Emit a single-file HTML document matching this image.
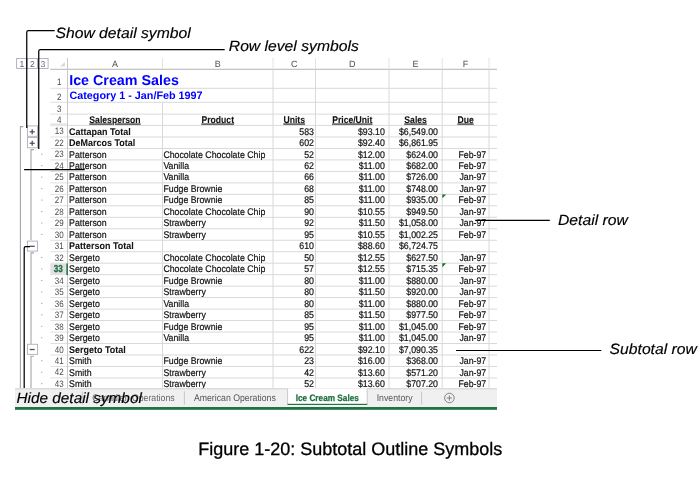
<!DOCTYPE html><html><head><meta charset="utf-8"><style>html,body{margin:0;padding:0;background:#fff;}svg{display:block;}.t{font-family:"Liberation Sans",Arial,sans-serif;text-rendering:geometricPrecision;}.d{fill:#111;stroke:#111;stroke-width:0.2px;font-size:9.7px;}.b{font-weight:bold;stroke-width:0.05px;}.r{text-anchor:end;}</style></head><body>
<svg width="700" height="480" viewBox="0 0 700 480" class="t">
<line x1="67.5" y1="69.40" x2="497" y2="69.40" stroke="#d9d9d9" stroke-width="1"/>
<line x1="67.5" y1="88.30" x2="497" y2="88.30" stroke="#d9d9d9" stroke-width="1"/>
<line x1="67.5" y1="102.30" x2="497" y2="102.30" stroke="#d9d9d9" stroke-width="1"/>
<line x1="67.5" y1="114.10" x2="497" y2="114.10" stroke="#d9d9d9" stroke-width="1"/>
<line x1="67.5" y1="125.40" x2="497" y2="125.40" stroke="#d9d9d9" stroke-width="1"/>
<line x1="67.5" y1="136.97" x2="497" y2="136.97" stroke="#d9d9d9" stroke-width="1"/>
<line x1="67.5" y1="148.45" x2="497" y2="148.45" stroke="#d9d9d9" stroke-width="1"/>
<line x1="67.5" y1="159.93" x2="497" y2="159.93" stroke="#d9d9d9" stroke-width="1"/>
<line x1="67.5" y1="171.40" x2="497" y2="171.40" stroke="#d9d9d9" stroke-width="1"/>
<line x1="67.5" y1="182.88" x2="497" y2="182.88" stroke="#d9d9d9" stroke-width="1"/>
<line x1="67.5" y1="194.35" x2="497" y2="194.35" stroke="#d9d9d9" stroke-width="1"/>
<line x1="67.5" y1="205.82" x2="497" y2="205.82" stroke="#d9d9d9" stroke-width="1"/>
<line x1="67.5" y1="217.30" x2="497" y2="217.30" stroke="#d9d9d9" stroke-width="1"/>
<line x1="67.5" y1="228.77" x2="497" y2="228.77" stroke="#d9d9d9" stroke-width="1"/>
<line x1="67.5" y1="240.25" x2="497" y2="240.25" stroke="#d9d9d9" stroke-width="1"/>
<line x1="67.5" y1="251.72" x2="497" y2="251.72" stroke="#d9d9d9" stroke-width="1"/>
<line x1="67.5" y1="263.20" x2="497" y2="263.20" stroke="#d9d9d9" stroke-width="1"/>
<line x1="67.5" y1="274.67" x2="497" y2="274.67" stroke="#d9d9d9" stroke-width="1"/>
<line x1="67.5" y1="286.15" x2="497" y2="286.15" stroke="#d9d9d9" stroke-width="1"/>
<line x1="67.5" y1="297.62" x2="497" y2="297.62" stroke="#d9d9d9" stroke-width="1"/>
<line x1="67.5" y1="309.10" x2="497" y2="309.10" stroke="#d9d9d9" stroke-width="1"/>
<line x1="67.5" y1="320.57" x2="497" y2="320.57" stroke="#d9d9d9" stroke-width="1"/>
<line x1="67.5" y1="332.05" x2="497" y2="332.05" stroke="#d9d9d9" stroke-width="1"/>
<line x1="67.5" y1="343.52" x2="497" y2="343.52" stroke="#d9d9d9" stroke-width="1"/>
<line x1="67.5" y1="355.00" x2="497" y2="355.00" stroke="#d9d9d9" stroke-width="1"/>
<line x1="67.5" y1="366.48" x2="497" y2="366.48" stroke="#d9d9d9" stroke-width="1"/>
<line x1="67.5" y1="377.95" x2="497" y2="377.95" stroke="#d9d9d9" stroke-width="1"/>
<line x1="50.3" y1="88.30" x2="67.5" y2="88.30" stroke="#e0e0e0" stroke-width="1"/>
<line x1="50.3" y1="102.30" x2="67.5" y2="102.30" stroke="#e0e0e0" stroke-width="1"/>
<line x1="50.3" y1="114.10" x2="67.5" y2="114.10" stroke="#e0e0e0" stroke-width="1"/>
<line x1="50.3" y1="125.40" x2="67.5" y2="125.40" stroke="#e0e0e0" stroke-width="1"/>
<line x1="50.3" y1="136.97" x2="67.5" y2="136.97" stroke="#e0e0e0" stroke-width="1"/>
<line x1="50.3" y1="148.45" x2="67.5" y2="148.45" stroke="#e0e0e0" stroke-width="1"/>
<line x1="50.3" y1="159.93" x2="67.5" y2="159.93" stroke="#e0e0e0" stroke-width="1"/>
<line x1="50.3" y1="171.40" x2="67.5" y2="171.40" stroke="#e0e0e0" stroke-width="1"/>
<line x1="50.3" y1="182.88" x2="67.5" y2="182.88" stroke="#e0e0e0" stroke-width="1"/>
<line x1="50.3" y1="194.35" x2="67.5" y2="194.35" stroke="#e0e0e0" stroke-width="1"/>
<line x1="50.3" y1="205.82" x2="67.5" y2="205.82" stroke="#e0e0e0" stroke-width="1"/>
<line x1="50.3" y1="217.30" x2="67.5" y2="217.30" stroke="#e0e0e0" stroke-width="1"/>
<line x1="50.3" y1="228.77" x2="67.5" y2="228.77" stroke="#e0e0e0" stroke-width="1"/>
<line x1="50.3" y1="240.25" x2="67.5" y2="240.25" stroke="#e0e0e0" stroke-width="1"/>
<line x1="50.3" y1="251.72" x2="67.5" y2="251.72" stroke="#e0e0e0" stroke-width="1"/>
<line x1="50.3" y1="263.20" x2="67.5" y2="263.20" stroke="#e0e0e0" stroke-width="1"/>
<line x1="50.3" y1="274.67" x2="67.5" y2="274.67" stroke="#e0e0e0" stroke-width="1"/>
<line x1="50.3" y1="286.15" x2="67.5" y2="286.15" stroke="#e0e0e0" stroke-width="1"/>
<line x1="50.3" y1="297.62" x2="67.5" y2="297.62" stroke="#e0e0e0" stroke-width="1"/>
<line x1="50.3" y1="309.10" x2="67.5" y2="309.10" stroke="#e0e0e0" stroke-width="1"/>
<line x1="50.3" y1="320.57" x2="67.5" y2="320.57" stroke="#e0e0e0" stroke-width="1"/>
<line x1="50.3" y1="332.05" x2="67.5" y2="332.05" stroke="#e0e0e0" stroke-width="1"/>
<line x1="50.3" y1="343.52" x2="67.5" y2="343.52" stroke="#e0e0e0" stroke-width="1"/>
<line x1="50.3" y1="355.00" x2="67.5" y2="355.00" stroke="#e0e0e0" stroke-width="1"/>
<line x1="50.3" y1="366.48" x2="67.5" y2="366.48" stroke="#e0e0e0" stroke-width="1"/>
<line x1="50.3" y1="377.95" x2="67.5" y2="377.95" stroke="#e0e0e0" stroke-width="1"/>
<line x1="50.3" y1="69.4" x2="497" y2="69.4" stroke="#c4c4c4" stroke-width="1.2"/>
<rect x="50.3" y="123.3" width="17.200000000000003" height="2.9" fill="#e6e6e6"/>
<line x1="162.5" y1="58" x2="162.5" y2="69" stroke="#e2e2e2" stroke-width="1"/>
<line x1="162.5" y1="102.3" x2="162.5" y2="388.6" stroke="#d9d9d9" stroke-width="1"/>
<line x1="273" y1="58" x2="273" y2="69" stroke="#e2e2e2" stroke-width="1"/>
<line x1="273" y1="69.4" x2="273" y2="388.6" stroke="#d9d9d9" stroke-width="1"/>
<line x1="315.5" y1="58" x2="315.5" y2="69" stroke="#e2e2e2" stroke-width="1"/>
<line x1="315.5" y1="69.4" x2="315.5" y2="388.6" stroke="#d9d9d9" stroke-width="1"/>
<line x1="389" y1="58" x2="389" y2="69" stroke="#e2e2e2" stroke-width="1"/>
<line x1="389" y1="69.4" x2="389" y2="388.6" stroke="#d9d9d9" stroke-width="1"/>
<line x1="442.2" y1="58" x2="442.2" y2="69" stroke="#e2e2e2" stroke-width="1"/>
<line x1="442.2" y1="69.4" x2="442.2" y2="388.6" stroke="#d9d9d9" stroke-width="1"/>
<line x1="489" y1="58" x2="489" y2="69" stroke="#e2e2e2" stroke-width="1"/>
<line x1="489" y1="69.4" x2="489" y2="388.6" stroke="#d9d9d9" stroke-width="1"/>
<line x1="67.5" y1="58" x2="67.5" y2="388.6" stroke="#c8c8c8" stroke-width="1"/>
<path d="M64.8 61.9 L64.8 66.6 L60.1 66.6 Z" fill="#d8d8d8"/>
<text x="115.00" y="66.7" font-size="9" fill="#505050" text-anchor="middle">A</text>
<text x="217.75" y="66.7" font-size="9" fill="#505050" text-anchor="middle">B</text>
<text x="294.25" y="66.7" font-size="9" fill="#505050" text-anchor="middle">C</text>
<text x="352.25" y="66.7" font-size="9" fill="#505050" text-anchor="middle">D</text>
<text x="415.60" y="66.7" font-size="9" fill="#505050" text-anchor="middle">E</text>
<text x="465.60" y="66.7" font-size="9" fill="#505050" text-anchor="middle">F</text>
<rect x="50.3" y="263.70" width="15.70" height="10.97" fill="#e1e1e1"/>
<rect x="66.30" y="263.50" width="1.6" height="11.47" fill="#217346"/>
<text transform="translate(59.2 85.10) scale(0.86 1)" font-size="9.3" fill="#4a4a4a" text-anchor="middle">1</text>
<text transform="translate(59.2 99.50) scale(0.86 1)" font-size="9.3" fill="#4a4a4a" text-anchor="middle">2</text>
<text transform="translate(59.2 111.60) scale(0.86 1)" font-size="9.3" fill="#4a4a4a" text-anchor="middle">3</text>
<text transform="translate(59.2 123.00) scale(0.86 1)" font-size="9.3" fill="#4a4a4a" text-anchor="middle">4</text>
<text transform="translate(59.2 134.47) scale(0.86 1)" font-size="9.3" fill="#4a4a4a" text-anchor="middle">13</text>
<text transform="translate(59.2 145.95) scale(0.86 1)" font-size="9.3" fill="#4a4a4a" text-anchor="middle">22</text>
<text transform="translate(59.2 157.42) scale(0.86 1)" font-size="9.3" fill="#4a4a4a" text-anchor="middle">23</text>
<text transform="translate(59.2 168.90) scale(0.86 1)" font-size="9.3" fill="#4a4a4a" text-anchor="middle">24</text>
<text transform="translate(59.2 180.38) scale(0.86 1)" font-size="9.3" fill="#4a4a4a" text-anchor="middle">25</text>
<text transform="translate(59.2 191.85) scale(0.86 1)" font-size="9.3" fill="#4a4a4a" text-anchor="middle">26</text>
<text transform="translate(59.2 203.32) scale(0.86 1)" font-size="9.3" fill="#4a4a4a" text-anchor="middle">27</text>
<text transform="translate(59.2 214.80) scale(0.86 1)" font-size="9.3" fill="#4a4a4a" text-anchor="middle">28</text>
<text transform="translate(59.2 226.28) scale(0.86 1)" font-size="9.3" fill="#4a4a4a" text-anchor="middle">29</text>
<text transform="translate(59.2 237.75) scale(0.86 1)" font-size="9.3" fill="#4a4a4a" text-anchor="middle">30</text>
<text transform="translate(59.2 249.22) scale(0.86 1)" font-size="9.3" fill="#4a4a4a" text-anchor="middle">31</text>
<text transform="translate(59.2 260.70) scale(0.86 1)" font-size="9.3" fill="#4a4a4a" text-anchor="middle">32</text>
<text transform="translate(58.3 272.38) scale(0.8 1)" font-size="10.2" font-weight="bold" fill="#1d6b3f" stroke="#1d6b3f" stroke-width="0.3" text-anchor="middle">33</text>
<text transform="translate(59.2 283.65) scale(0.86 1)" font-size="9.3" fill="#4a4a4a" text-anchor="middle">34</text>
<text transform="translate(59.2 295.12) scale(0.86 1)" font-size="9.3" fill="#4a4a4a" text-anchor="middle">35</text>
<text transform="translate(59.2 306.60) scale(0.86 1)" font-size="9.3" fill="#4a4a4a" text-anchor="middle">36</text>
<text transform="translate(59.2 318.08) scale(0.86 1)" font-size="9.3" fill="#4a4a4a" text-anchor="middle">37</text>
<text transform="translate(59.2 329.55) scale(0.86 1)" font-size="9.3" fill="#4a4a4a" text-anchor="middle">38</text>
<text transform="translate(59.2 341.02) scale(0.86 1)" font-size="9.3" fill="#4a4a4a" text-anchor="middle">39</text>
<text transform="translate(59.2 352.50) scale(0.86 1)" font-size="9.3" fill="#4a4a4a" text-anchor="middle">40</text>
<text transform="translate(59.2 363.98) scale(0.86 1)" font-size="9.3" fill="#4a4a4a" text-anchor="middle">41</text>
<text transform="translate(59.2 375.45) scale(0.86 1)" font-size="9.3" fill="#4a4a4a" text-anchor="middle">42</text>
<text transform="translate(59.2 386.93) scale(0.86 1)" font-size="9.3" fill="#4a4a4a" text-anchor="middle">43</text>
<text x="69.2" y="84.5" font-size="14.3" font-weight="bold" fill="#0000ff">Ice Cream Sales</text>
<text x="69.4" y="99.3" font-size="10.8" font-weight="bold" fill="#0000ff">Category 1 - Jan/Feb 1997</text>
<text transform="translate(115.00 122.6) scale(0.89 1)" class="d" font-weight="bold" text-anchor="middle" text-decoration="underline" style="stroke-width:0.1px">Salesperson</text>
<text transform="translate(217.75 122.6) scale(0.89 1)" class="d" font-weight="bold" text-anchor="middle" text-decoration="underline" style="stroke-width:0.1px">Product</text>
<text transform="translate(294.25 122.6) scale(0.89 1)" class="d" font-weight="bold" text-anchor="middle" text-decoration="underline" style="stroke-width:0.1px">Units</text>
<text transform="translate(352.25 122.6) scale(0.89 1)" class="d" font-weight="bold" text-anchor="middle" text-decoration="underline" style="stroke-width:0.1px">Price/Unit</text>
<text transform="translate(415.60 122.6) scale(0.89 1)" class="d" font-weight="bold" text-anchor="middle" text-decoration="underline" style="stroke-width:0.1px">Sales</text>
<text transform="translate(465.60 122.6) scale(0.89 1)" class="d" font-weight="bold" text-anchor="middle" text-decoration="underline" style="stroke-width:0.1px">Due</text>
<text transform="translate(69.1 134.57) scale(0.925 1)" class="d b">Cattapan Total</text>
<text transform="translate(314 134.57) scale(0.905 1)" class="d r">583</text>
<text transform="translate(384.8 134.57) scale(0.905 1)" class="d r">$93.10</text>
<text transform="translate(438 134.57) scale(0.905 1)" class="d r">$6,549.00</text>
<text transform="translate(69.1 146.05) scale(0.925 1)" class="d b">DeMarcos Total</text>
<text transform="translate(314 146.05) scale(0.905 1)" class="d r">602</text>
<text transform="translate(384.8 146.05) scale(0.905 1)" class="d r">$92.40</text>
<text transform="translate(438 146.05) scale(0.905 1)" class="d r">$6,861.95</text>
<text transform="translate(69.1 157.52) scale(0.905 1)" class="d">Patterson</text>
<text transform="translate(163.4 157.52) scale(0.905 1)" class="d">Chocolate Chocolate Chip</text>
<text transform="translate(314 157.52) scale(0.905 1)" class="d r">52</text>
<text transform="translate(384.8 157.52) scale(0.905 1)" class="d r">$12.00</text>
<text transform="translate(438 157.52) scale(0.905 1)" class="d r">$624.00</text>
<text transform="translate(486.2 157.52) scale(0.905 1)" class="d r">Feb-97</text>
<text transform="translate(69.1 169.00) scale(0.905 1)" class="d">Patterson</text>
<text transform="translate(163.4 169.00) scale(0.905 1)" class="d">Vanilla</text>
<text transform="translate(314 169.00) scale(0.905 1)" class="d r">62</text>
<text transform="translate(384.8 169.00) scale(0.905 1)" class="d r">$11.00</text>
<text transform="translate(438 169.00) scale(0.905 1)" class="d r">$682.00</text>
<text transform="translate(486.2 169.00) scale(0.905 1)" class="d r">Feb-97</text>
<text transform="translate(69.1 180.47) scale(0.905 1)" class="d">Patterson</text>
<text transform="translate(163.4 180.47) scale(0.905 1)" class="d">Vanilla</text>
<text transform="translate(314 180.47) scale(0.905 1)" class="d r">66</text>
<text transform="translate(384.8 180.47) scale(0.905 1)" class="d r">$11.00</text>
<text transform="translate(438 180.47) scale(0.905 1)" class="d r">$726.00</text>
<text transform="translate(486.2 180.47) scale(0.905 1)" class="d r">Jan-97</text>
<text transform="translate(69.1 191.95) scale(0.905 1)" class="d">Patterson</text>
<text transform="translate(163.4 191.95) scale(0.905 1)" class="d">Fudge Brownie</text>
<text transform="translate(314 191.95) scale(0.905 1)" class="d r">68</text>
<text transform="translate(384.8 191.95) scale(0.905 1)" class="d r">$11.00</text>
<text transform="translate(438 191.95) scale(0.905 1)" class="d r">$748.00</text>
<text transform="translate(486.2 191.95) scale(0.905 1)" class="d r">Jan-97</text>
<text transform="translate(69.1 203.42) scale(0.905 1)" class="d">Patterson</text>
<text transform="translate(163.4 203.42) scale(0.905 1)" class="d">Fudge Brownie</text>
<text transform="translate(314 203.42) scale(0.905 1)" class="d r">85</text>
<text transform="translate(384.8 203.42) scale(0.905 1)" class="d r">$11.00</text>
<text transform="translate(438 203.42) scale(0.905 1)" class="d r">$935.00</text>
<text transform="translate(486.2 203.42) scale(0.905 1)" class="d r">Feb-97</text>
<text transform="translate(69.1 214.90) scale(0.905 1)" class="d">Patterson</text>
<text transform="translate(163.4 214.90) scale(0.905 1)" class="d">Chocolate Chocolate Chip</text>
<text transform="translate(314 214.90) scale(0.905 1)" class="d r">90</text>
<text transform="translate(384.8 214.90) scale(0.905 1)" class="d r">$10.55</text>
<text transform="translate(438 214.90) scale(0.905 1)" class="d r">$949.50</text>
<text transform="translate(486.2 214.90) scale(0.905 1)" class="d r">Jan-97</text>
<text transform="translate(69.1 226.38) scale(0.905 1)" class="d">Patterson</text>
<text transform="translate(163.4 226.38) scale(0.905 1)" class="d">Strawberry</text>
<text transform="translate(314 226.38) scale(0.905 1)" class="d r">92</text>
<text transform="translate(384.8 226.38) scale(0.905 1)" class="d r">$11.50</text>
<text transform="translate(438 226.38) scale(0.905 1)" class="d r">$1,058.00</text>
<text transform="translate(486.2 226.38) scale(0.905 1)" class="d r">Jan-97</text>
<text transform="translate(69.1 237.85) scale(0.905 1)" class="d">Patterson</text>
<text transform="translate(163.4 237.85) scale(0.905 1)" class="d">Strawberry</text>
<text transform="translate(314 237.85) scale(0.905 1)" class="d r">95</text>
<text transform="translate(384.8 237.85) scale(0.905 1)" class="d r">$10.55</text>
<text transform="translate(438 237.85) scale(0.905 1)" class="d r">$1,002.25</text>
<text transform="translate(486.2 237.85) scale(0.905 1)" class="d r">Feb-97</text>
<text transform="translate(69.1 249.32) scale(0.925 1)" class="d b">Patterson Total</text>
<text transform="translate(314 249.32) scale(0.905 1)" class="d r">610</text>
<text transform="translate(384.8 249.32) scale(0.905 1)" class="d r">$88.60</text>
<text transform="translate(438 249.32) scale(0.905 1)" class="d r">$6,724.75</text>
<text transform="translate(69.1 260.80) scale(0.905 1)" class="d">Sergeto</text>
<text transform="translate(163.4 260.80) scale(0.905 1)" class="d">Chocolate Chocolate Chip</text>
<text transform="translate(314 260.80) scale(0.905 1)" class="d r">50</text>
<text transform="translate(384.8 260.80) scale(0.905 1)" class="d r">$12.55</text>
<text transform="translate(438 260.80) scale(0.905 1)" class="d r">$627.50</text>
<text transform="translate(486.2 260.80) scale(0.905 1)" class="d r">Jan-97</text>
<text transform="translate(69.1 272.28) scale(0.905 1)" class="d">Sergeto</text>
<text transform="translate(163.4 272.28) scale(0.905 1)" class="d">Chocolate Chocolate Chip</text>
<text transform="translate(314 272.28) scale(0.905 1)" class="d r">57</text>
<text transform="translate(384.8 272.28) scale(0.905 1)" class="d r">$12.55</text>
<text transform="translate(438 272.28) scale(0.905 1)" class="d r">$715.35</text>
<text transform="translate(486.2 272.28) scale(0.905 1)" class="d r">Feb-97</text>
<text transform="translate(69.1 283.75) scale(0.905 1)" class="d">Sergeto</text>
<text transform="translate(163.4 283.75) scale(0.905 1)" class="d">Fudge Brownie</text>
<text transform="translate(314 283.75) scale(0.905 1)" class="d r">80</text>
<text transform="translate(384.8 283.75) scale(0.905 1)" class="d r">$11.00</text>
<text transform="translate(438 283.75) scale(0.905 1)" class="d r">$880.00</text>
<text transform="translate(486.2 283.75) scale(0.905 1)" class="d r">Jan-97</text>
<text transform="translate(69.1 295.23) scale(0.905 1)" class="d">Sergeto</text>
<text transform="translate(163.4 295.23) scale(0.905 1)" class="d">Strawberry</text>
<text transform="translate(314 295.23) scale(0.905 1)" class="d r">80</text>
<text transform="translate(384.8 295.23) scale(0.905 1)" class="d r">$11.50</text>
<text transform="translate(438 295.23) scale(0.905 1)" class="d r">$920.00</text>
<text transform="translate(486.2 295.23) scale(0.905 1)" class="d r">Jan-97</text>
<text transform="translate(69.1 306.70) scale(0.905 1)" class="d">Sergeto</text>
<text transform="translate(163.4 306.70) scale(0.905 1)" class="d">Vanilla</text>
<text transform="translate(314 306.70) scale(0.905 1)" class="d r">80</text>
<text transform="translate(384.8 306.70) scale(0.905 1)" class="d r">$11.00</text>
<text transform="translate(438 306.70) scale(0.905 1)" class="d r">$880.00</text>
<text transform="translate(486.2 306.70) scale(0.905 1)" class="d r">Feb-97</text>
<text transform="translate(69.1 318.18) scale(0.905 1)" class="d">Sergeto</text>
<text transform="translate(163.4 318.18) scale(0.905 1)" class="d">Strawberry</text>
<text transform="translate(314 318.18) scale(0.905 1)" class="d r">85</text>
<text transform="translate(384.8 318.18) scale(0.905 1)" class="d r">$11.50</text>
<text transform="translate(438 318.18) scale(0.905 1)" class="d r">$977.50</text>
<text transform="translate(486.2 318.18) scale(0.905 1)" class="d r">Feb-97</text>
<text transform="translate(69.1 329.65) scale(0.905 1)" class="d">Sergeto</text>
<text transform="translate(163.4 329.65) scale(0.905 1)" class="d">Fudge Brownie</text>
<text transform="translate(314 329.65) scale(0.905 1)" class="d r">95</text>
<text transform="translate(384.8 329.65) scale(0.905 1)" class="d r">$11.00</text>
<text transform="translate(438 329.65) scale(0.905 1)" class="d r">$1,045.00</text>
<text transform="translate(486.2 329.65) scale(0.905 1)" class="d r">Feb-97</text>
<text transform="translate(69.1 341.12) scale(0.905 1)" class="d">Sergeto</text>
<text transform="translate(163.4 341.12) scale(0.905 1)" class="d">Vanilla</text>
<text transform="translate(314 341.12) scale(0.905 1)" class="d r">95</text>
<text transform="translate(384.8 341.12) scale(0.905 1)" class="d r">$11.00</text>
<text transform="translate(438 341.12) scale(0.905 1)" class="d r">$1,045.00</text>
<text transform="translate(486.2 341.12) scale(0.905 1)" class="d r">Jan-97</text>
<text transform="translate(69.1 352.60) scale(0.925 1)" class="d b">Sergeto Total</text>
<text transform="translate(314 352.60) scale(0.905 1)" class="d r">622</text>
<text transform="translate(384.8 352.60) scale(0.905 1)" class="d r">$92.10</text>
<text transform="translate(438 352.60) scale(0.905 1)" class="d r">$7,090.35</text>
<text transform="translate(69.1 364.08) scale(0.905 1)" class="d">Smith</text>
<text transform="translate(163.4 364.08) scale(0.905 1)" class="d">Fudge Brownie</text>
<text transform="translate(314 364.08) scale(0.905 1)" class="d r">23</text>
<text transform="translate(384.8 364.08) scale(0.905 1)" class="d r">$16.00</text>
<text transform="translate(438 364.08) scale(0.905 1)" class="d r">$368.00</text>
<text transform="translate(486.2 364.08) scale(0.905 1)" class="d r">Jan-97</text>
<text transform="translate(69.1 375.55) scale(0.905 1)" class="d">Smith</text>
<text transform="translate(163.4 375.55) scale(0.905 1)" class="d">Strawberry</text>
<text transform="translate(314 375.55) scale(0.905 1)" class="d r">42</text>
<text transform="translate(384.8 375.55) scale(0.905 1)" class="d r">$13.60</text>
<text transform="translate(438 375.55) scale(0.905 1)" class="d r">$571.20</text>
<text transform="translate(486.2 375.55) scale(0.905 1)" class="d r">Jan-97</text>
<text transform="translate(69.1 387.03) scale(0.905 1)" class="d">Smith</text>
<text transform="translate(163.4 387.03) scale(0.905 1)" class="d">Strawberry</text>
<text transform="translate(314 387.03) scale(0.905 1)" class="d r">52</text>
<text transform="translate(384.8 387.03) scale(0.905 1)" class="d r">$13.60</text>
<text transform="translate(438 387.03) scale(0.905 1)" class="d r">$707.20</text>
<text transform="translate(486.2 387.03) scale(0.905 1)" class="d r">Feb-97</text>
<path d="M442.3 194.45 h3.9 L442.3 198.35 Z" fill="#13752f"/>
<path d="M442.3 263.30 h3.9 L442.3 267.20 Z" fill="#13752f"/>
<rect x="16.60" y="58.5" width="10.5" height="10" fill="#fff" stroke="#a9b0bc" stroke-width="0.9"/>
<text x="21.85" y="66.6" font-size="8.6" fill="#666" text-anchor="middle">1</text>
<rect x="27.10" y="58.5" width="10.5" height="10" fill="#fff" stroke="#a9b0bc" stroke-width="0.9"/>
<text x="32.35" y="66.6" font-size="8.6" fill="#666" text-anchor="middle">2</text>
<rect x="37.60" y="58.5" width="10.5" height="10" fill="#fff" stroke="#a9b0bc" stroke-width="0.9"/>
<text x="42.85" y="66.6" font-size="8.6" fill="#666" text-anchor="middle">3</text>
<path d="M23.3 126.6 H20.4 V388.6" fill="none" stroke="#a6a6a6" stroke-width="1.1"/>
<path d="M34 149.65 H31 V240.30" fill="none" stroke="#a6a6a6" stroke-width="1.1"/>
<path d="M34 252.92 H31 V344.00" fill="none" stroke="#a6a6a6" stroke-width="1.1"/>
<path d="M34 356.20 H31 V388.60" fill="none" stroke="#a6a6a6" stroke-width="1.1"/>
<rect x="41.3" y="153.69" width="1" height="1" fill="#888"/>
<rect x="41.3" y="165.16" width="1" height="1" fill="#888"/>
<rect x="41.3" y="176.64" width="1" height="1" fill="#888"/>
<rect x="41.3" y="188.11" width="1" height="1" fill="#888"/>
<rect x="41.3" y="199.59" width="1" height="1" fill="#888"/>
<rect x="41.3" y="211.06" width="1" height="1" fill="#888"/>
<rect x="41.3" y="222.54" width="1" height="1" fill="#888"/>
<rect x="41.3" y="234.01" width="1" height="1" fill="#888"/>
<rect x="41.3" y="256.96" width="1" height="1" fill="#888"/>
<rect x="41.3" y="268.44" width="1" height="1" fill="#888"/>
<rect x="41.3" y="279.91" width="1" height="1" fill="#888"/>
<rect x="41.3" y="291.39" width="1" height="1" fill="#888"/>
<rect x="41.3" y="302.86" width="1" height="1" fill="#888"/>
<rect x="41.3" y="314.34" width="1" height="1" fill="#888"/>
<rect x="41.3" y="325.81" width="1" height="1" fill="#888"/>
<rect x="41.3" y="337.29" width="1" height="1" fill="#888"/>
<rect x="41.3" y="360.24" width="1" height="1" fill="#888"/>
<rect x="41.3" y="371.71" width="1" height="1" fill="#888"/>
<rect x="41.3" y="383.19" width="1" height="1" fill="#888"/>
<rect x="27.4" y="125.90" width="10.2" height="10.4" fill="#fff" stroke="#a9b0bc" stroke-width="0.9"/>
<path d="M29.70 131.80 H34.70" stroke="#4d4d4d" stroke-width="1.25"/>
<path d="M32.20 129.30 V134.30" stroke="#4d4d4d" stroke-width="1.25"/>
<rect x="27.4" y="137.38" width="10.2" height="10.4" fill="#fff" stroke="#a9b0bc" stroke-width="0.9"/>
<path d="M29.70 143.27 H34.70" stroke="#4d4d4d" stroke-width="1.25"/>
<path d="M32.20 140.77 V145.77" stroke="#4d4d4d" stroke-width="1.25"/>
<rect x="27.4" y="241.10" width="10.2" height="10.0" fill="#fff" stroke="#a9b0bc" stroke-width="0.9"/>
<path d="M29.70 246.30 H34.70" stroke="#4d4d4d" stroke-width="1.25"/>
<rect x="27.4" y="344.27" width="10.2" height="10.1" fill="#fff" stroke="#a9b0bc" stroke-width="0.9"/>
<path d="M29.70 349.52 H34.70" stroke="#4d4d4d" stroke-width="1.25"/>
<rect x="15" y="388.6" width="482" height="21" fill="#f0f0f0"/>
<line x1="15" y1="388.8" x2="497" y2="388.8" stroke="#d0d0d0" stroke-width="1"/>
<rect x="287.6" y="388.4" width="79.6" height="17" fill="#fff"/>
<path d="M287.6 388.8 V404.6 M367.2 388.8 V404.6" stroke="#c8c8c8" stroke-width="1"/>
<rect x="287.6" y="403.8" width="79.6" height="1.2" fill="#217346"/>
<rect x="15" y="407" width="482" height="2.9" fill="#217346"/>
<rect x="15" y="409.9" width="482" height="1" fill="#fff"/>
<line x1="82.3" y1="391.5" x2="82.3" y2="404.5" stroke="#c6c6c6" stroke-width="1"/>
<line x1="184.4" y1="391.5" x2="184.4" y2="404.5" stroke="#c6c6c6" stroke-width="1"/>
<line x1="421.6" y1="391.5" x2="421.6" y2="404.5" stroke="#c6c6c6" stroke-width="1"/>
<text transform="translate(92.2 400.8) scale(0.9 1)" font-size="9.7" fill="#666">Canadian Operations</text>
<text transform="translate(193.9 400.8) scale(0.9 1)" font-size="9.7" fill="#555">American Operations</text>
<text transform="translate(295.7 400.5) scale(0.885 1)" font-size="9.3" font-weight="bold" fill="#1f6e40" stroke="#1f6e40" stroke-width="0.25">Ice Cream Sales</text>
<text transform="translate(376.7 400.8) scale(0.9 1)" font-size="9.7" fill="#555">Inventory</text>
<circle cx="449.4" cy="398" r="4.8" fill="none" stroke="#777" stroke-width="0.9"/>
<path d="M446.8 398 H452 M449.4 395.4 V400.6" stroke="#777" stroke-width="0.9"/>
<path d="M54.7 30.7 H28.35 Q26.75 30.7 26.75 32.3 V128" fill="none" stroke="#000" stroke-width="1.25"/>
<path d="M224.7 49.6 H40.35 Q38.75 49.6 38.75 51.2 V149" fill="none" stroke="#000" stroke-width="1.25"/>
<path d="M24.1 169.6 H84.7" fill="none" stroke="#000" stroke-width="1.25"/>
<path d="M30 246.6 H25.7 Q24.2 246.6 24.2 248.1 V388" fill="none" stroke="#000" stroke-width="1.25"/>
<path d="M475.2 220.4 H549.8" fill="none" stroke="#000" stroke-width="1.15"/>
<path d="M456.1 350.5 H601.3" fill="none" stroke="#000" stroke-width="1.15"/>
<text transform="translate(55.5 37.6) scale(1.054 1)" font-size="14.9" font-style="italic" fill="#000" stroke="#000" stroke-width="0.15">Show detail symbol</text>
<text transform="translate(228.8 51.3) scale(1.054 1)" font-size="14.9" font-style="italic" fill="#000" stroke="#000" stroke-width="0.15">Row level symbols</text>
<text transform="translate(558 225.3) scale(1.054 1)" font-size="14.9" font-style="italic" fill="#000" stroke="#000" stroke-width="0.15">Detail row</text>
<text transform="translate(609.6 353.9) scale(1.054 1)" font-size="14.9" font-style="italic" fill="#000" stroke="#000" stroke-width="0.15">Subtotal row</text>
<text transform="translate(16.5 402.6) scale(1.03 1)" font-size="14.9" font-style="italic" fill="#000" stroke="#000" stroke-width="0.15">Hide detail symbol</text>
<text x="350.3" y="455" font-size="18" fill="#000" stroke="#000" stroke-width="0.3" text-anchor="middle">Figure 1-20: Subtotal Outline Symbols</text>
</svg></body></html>
